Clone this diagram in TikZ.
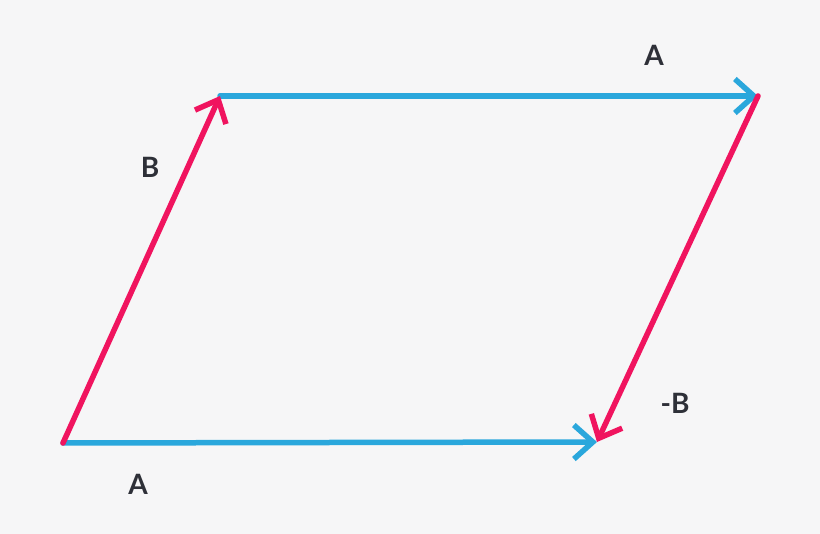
\documentclass[tikz,border=0pt]{standalone}
\usepackage{fontspec}
\setmainfont{Lato}
\usepackage{tikz}
\usetikzlibrary{arrows.meta}

\definecolor{vecblue}{HTML}{2AA7DC}
\definecolor{vecpink}{HTML}{F0145F}
\definecolor{labelgray}{HTML}{2E3038}
\definecolor{bggray}{HTML}{F6F6F7}

\begin{document}
\begin{tikzpicture}[x=1pt,y=-1pt,>={Straight Barb[length=19pt,width=34pt]},line width=5.5pt,
  vec/.style={->,line cap=round},
  lbl/.style={text=labelgray,font=\fontsize{28}{31}\selectfont\bfseries}]

\fill[bggray] (0,0) rectangle (820,534);
\useasboundingbox (0,0) rectangle (820,534);

\coordinate (P) at (63,443);
\coordinate (Q) at (220,96);
\coordinate (R) at (758,96);
\coordinate (S) at (597,442);

% horizontal vectors
\draw[vec,vecblue] (Q) -- (R);
\draw[vec,vecblue] (P) -- (S);
% slanted vectors
\draw[vec,vecpink] (P) -- (Q);
\draw[vec,vecpink] (R) -- (S);

\node[lbl] (topA)    at (654,55)  {A};
\node[lbl] (leftB)   at (150,167) {B};
\node[lbl] (bottomA) at (138,484) {A};
\node[lbl] (minusB)  at (675,403) {-B};
\end{tikzpicture}
\end{document}
